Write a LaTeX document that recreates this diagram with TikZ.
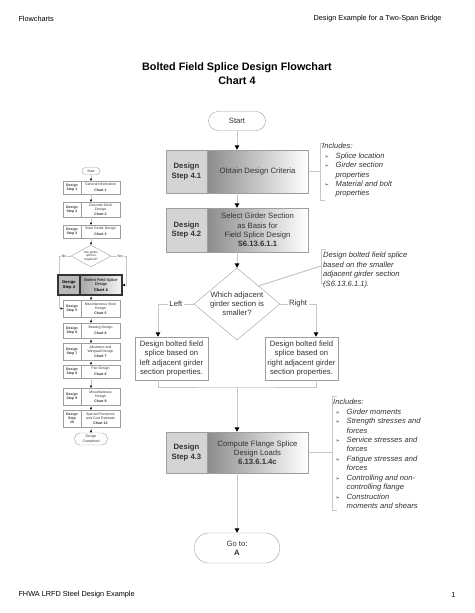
\documentclass[tikz,border=0pt]{standalone}
\usepackage{fontspec}
\setmainfont{Liberation Sans}
\newfontfamily\dejavu{DejaVu Sans}
\usetikzlibrary{arrows.meta,shapes.geometric,calc}
\definecolor{linegray}{gray}{0.78}
\definecolor{boxgray}{gray}{0.62}
\definecolor{leftfill}{gray}{0.83}
\definecolor{shadedark}{gray}{0.55}
\definecolor{txtgray}{gray}{0.2}
\newcommand\mainsz{\fontsize{7.7}{9.2}\selectfont}
\newcommand\notesz{\fontsize{7.6}{9.45}\selectfont}
\newcommand\hdsz{\fontsize{7.3}{9}\selectfont}
\newcommand\minisz{\fontsize{3.5}{4.2}\selectfont}
\newcommand\bul{{\dejavu\fontsize{5}{5}\selectfont ➢}}
\newcommand\itm[1]{\hspace*{2.5pt}\makebox[11pt][l]{\bul}#1}
\newcommand\cnt[1]{\hspace*{13.5pt}#1}
\begin{document}
\begin{tikzpicture}[x=1pt,y=-1pt,
  conn/.style={draw=linegray, line width=1pt},
  arr/.style={conn, -{Triangle[length=4.5pt,width=4.5pt,color=black]}},
  steplab/.style={draw=boxgray, fill=leftfill, font=\bfseries\mainsz, align=center, inner sep=0pt, text=txtgray},
  stepbody/.style={draw=boxgray, left color=shadedark, right color=white, font=\mainsz, align=center, inner sep=0pt, text=txtgray},
  plainbox/.style={draw=boxgray, fill=white, font=\mainsz, align=center, inner sep=0pt, text=txtgray},
  term/.style={draw=boxgray, fill=white, font=\mainsz, align=center, inner sep=0pt, text=txtgray},
  lbl/.style={fill=white, font=\mainsz, inner sep=1.5pt, text=txtgray},
  note/.style={font=\itshape\notesz, align=left, inner sep=0pt, anchor=north west, text=txtgray},
  mconn/.style={draw=linegray, line width=0.6pt},
  marr/.style={mconn, -{Triangle[length=2.2pt,width=2.2pt,color=black]}},
  mlab/.style={draw=boxgray, line width=0.4pt, fill=white, font=\bfseries\minisz, align=center, inner sep=0pt, text=txtgray},
  mbody/.style={draw=boxgray, line width=0.4pt, fill=white, font=\minisz, align=center, inner sep=0pt, text=txtgray},
  mterm/.style={draw=boxgray, line width=0.4pt, fill=white, font=\minisz, align=center, inner sep=0pt, rounded corners=3.5pt, text=txtgray},
  mlbl/.style={fill=white, font=\minisz, inner sep=0.6pt, text=txtgray}
]
\fill[white] (0,0) rectangle (474,613);
\useasboundingbox (0,0) rectangle (474,613);

% header / footer
\node[anchor=west, font=\hdsz] (hl) at (15,19) {Flowcharts};
\node[anchor=east, font=\hdsz] (hr) at (445,19) {Design Example for a Two-Span Bridge};
\node[anchor=west, font=\hdsz] (fl) at (15,595) {FHWA LRFD Steel Design Example};
\node[anchor=east, font=\hdsz] (fr) at (459,595) {1};

% title
\node[font=\bfseries\fontsize{10.8}{14.5}\selectfont, align=center] (title) at (237,73.5) {Bolted Field Splice Design Flowchart\\Chart 4};

% main axis
\coordinate (ax) at (237,0);
\coordinate (lj) at (158,0);
\coordinate (rj) at (316,0);

\node[term, minimum width=57pt, minimum height=19pt, rounded corners=9.5pt] (start) at (237,121) {Start};

\node[steplab, minimum width=41pt, minimum height=43pt] (s41l) at (186.5,171.5) {Design\\Step 4.1};
\node[stepbody, minimum width=101pt, minimum height=43pt] (s41r) at (257.5,171.5) {Obtain Design Criteria};

\node[steplab, minimum width=41pt, minimum height=44pt] (s42l) at (186.5,230) {Design\\Step 4.2};
\node[stepbody, minimum width=101pt, minimum height=44pt] (s42r) at (257.5,230) {Select Girder Section\\as Basis for\\Field Splice Design\\\textbf{S6.13.6.1.1}};

\node[draw=boxgray, fill=white, shape=diamond, shape aspect=1.2, inner sep=0pt, minimum width=86pt, minimum height=72pt, font=\mainsz, align=center, text=txtgray] (dia) at (237,304) {Which adjacent\\girder section is\\smaller?};

\node[plainbox, minimum width=73pt, minimum height=43pt] (lbox) at (171.5,358.5) {Design bolted field\\splice based on\\left adjacent girder\\section properties.};
\node[plainbox, minimum width=73pt, minimum height=43pt] (rbox) at (301.5,358.5) {Design bolted field\\splice based on\\right adjacent girder\\section properties.};

\coordinate (join) at (237,387);

\node[steplab, minimum width=41pt, minimum height=41pt] (s43l) at (186.5,452.5) {Design\\Step 4.3};
\node[stepbody, minimum width=101pt, minimum height=41pt] (s43r) at (257.5,452.5) {Compute Flange Splice\\Design Loads\\\textbf{6.13.6.1.4c}};

\node[term, minimum width=85pt, minimum height=30pt, rounded corners=14pt] (goto) at (237,548) {Go to:\\\textbf{A}};

% main connectors
\draw[arr] (start.south) -- (ax |- s41r.north);
\draw[arr] (ax |- s41r.south) -- (ax |- s42r.north);
\draw[arr] (ax |- s42r.south) -- (dia.north);
\draw[arr] (dia.west) -| node[lbl, pos=0.25] {Left} (lj |- lbox.north);
\draw[arr] (dia.east) -| node[lbl, pos=0.25] {Right} (rj |- rbox.north);
\draw[conn] (lj |- lbox.south) |- (join) -| (rj |- rbox.south);
\draw[arr] (join) -- (ax |- s43r.north);
\draw[arr] (ax |- s43r.south) -- (goto.north);

% notes
\coordinate (n1b) at (320,171.5);
\draw[conn] (325,143) -- (320,143) -- (320,200) -- (325,200);
\draw[conn] (s41r.east) -- (n1b);
\node[note] (n1) at (322,143) {Includes:\\\itm{Splice location}\\\itm{Girder section}\\\cnt{properties}\\\itm{Material and bolt}\\\cnt{properties}};

\coordinate (n2b) at (321,266);
\draw[conn] (326,249) -- (321,249) -- (321,283) -- (326,283);
\draw[conn] (dia.north east) -- (n2b);
\node[note] (n2) at (323,252) {Design bolted field splice\\based on the smaller\\adjacent girder section\\(S6.13.6.1.1).};

\coordinate (n3b) at (332,452.5);
\draw[conn] (337,396) -- (332,396) -- (332,510) -- (337,510);
\draw[conn] (s43r.east) -- (n3b);
\node[note] (n3) at (333,399) {Includes:\\\itm{Girder moments}\\\itm{Strength stresses and}\\\cnt{forces}\\\itm{Service stresses and}\\\cnt{forces}\\\itm{Fatigue stresses and}\\\cnt{forces}\\\itm{Controlling and non-}\\\cnt{controlling flange}\\\itm{Construction}\\\cnt{moments and shears}};

% mini flowchart
\coordinate (mnoX) at (59.5,0);
\coordinate (myesX) at (126,0);
\node[mterm, minimum width=18pt, minimum height=7pt] (mstart) at (91,171) {Start};
\node[mlab, minimum width=18pt, minimum height=13pt] (m1l) at (72,187.5) {Design\\Step 1};
\node[mbody, minimum width=39pt, minimum height=13pt] (m1r) at (100.5,187.5) {General Information\\[1.5pt]\textbf{Chart 1}};
\node[mlab, minimum width=18pt, minimum height=15pt] (m2l) at (72,209.5) {Design\\Step 2};
\node[mbody, minimum width=39pt, minimum height=15pt] (m2r) at (100.5,209.5) {Concrete Deck\\Design\\[1pt]\textbf{Chart 2}};
\node[mlab, minimum width=18pt, minimum height=13pt] (m3l) at (72,231.5) {Design\\Step 3};
\node[mbody, minimum width=39pt, minimum height=13pt] (m3r) at (100.5,231.5) {Steel Girder Design\\[1.5pt]\textbf{Chart 3}};
\node[draw=boxgray, line width=0.4pt, fill=white, shape=diamond, shape aspect=1.8, inner sep=0pt, minimum width=40pt, minimum height=22pt, font=\fontsize{3.2}{3.8}\selectfont, align=center, text=txtgray] (md) at (91,256) {Are girder\\splices\\required?};

\node[mlab, minimum width=18pt, minimum height=17pt] (m5l) at (72,308.5) {Design\\Step 5};
\node[mbody, minimum width=39pt, minimum height=17pt] (m5r) at (100.5,308.5) {Miscellaneous Steel\\Design\\[1pt]\textbf{Chart 5}};

\draw[marr] (md.west) -| node[mlbl, pos=0.3] {No} (mnoX |- m5l.west) -- (m5l.west);

\node[draw=black!80, line width=1.1pt, fill=gray!55, font=\bfseries\fontsize{4}{4.8}\selectfont, align=center, inner sep=0pt, minimum width=22pt, minimum height=20pt, text=black] (m4l) at (69,285) {Design\\Step 4};
\node[draw=black!80, line width=1.1pt, left color=gray!70, right color=gray!8, font=\fontsize{4}{4.8}\selectfont, align=center, inner sep=0pt, minimum width=42pt, minimum height=20pt, text=black] (m4r) at (101,285) {Bolted Field Splice\\Design\\[1pt]\textbf{Chart 4}};

\node[mlab, minimum width=18pt, minimum height=15pt] (m6l) at (72,330.5) {Design\\Step 6};
\node[mbody, minimum width=39pt, minimum height=15pt] (m6r) at (100.5,330.5) {Bearing Design\\[2pt]\textbf{Chart 6}};
\node[mlab, minimum width=18pt, minimum height=17pt] (m7l) at (72,351.5) {Design\\Step 7};
\node[mbody, minimum width=39pt, minimum height=17pt] (m7r) at (100.5,351.5) {Abutment and\\Wingwall Design\\[1pt]\textbf{Chart 7}};
\node[mlab, minimum width=18pt, minimum height=13pt] (m8l) at (72,371.5) {Design\\Step 8};
\node[mbody, minimum width=39pt, minimum height=13pt] (m8r) at (100.5,371.5) {Pier Design\\[1.5pt]\textbf{Chart 8}};
\node[mlab, minimum width=18pt, minimum height=17pt] (m9l) at (72,396.5) {Design\\Step 9};
\node[mbody, minimum width=39pt, minimum height=17pt] (m9r) at (100.5,396.5) {Miscellaneous\\Design\\[1pt]\textbf{Chart 9}};
\node[mlab, minimum width=18pt, minimum height=17pt] (m10l) at (72,418.5) {Design\\Step\\10};
\node[mbody, minimum width=39pt, minimum height=17pt] (m10r) at (100.5,418.5) {Special Provisions\\and Cost Estimate\\[1pt]\textbf{Chart 10}};
\node[mterm, minimum width=33pt, minimum height=12pt, rounded corners=5.5pt] (mdone) at (91,439) {Design\\Completed};

% mini connectors
\coordinate (max) at (91,0);
\draw[marr] (mstart.south) -- (max |- m1r.north);
\draw[marr] (max |- m1r.south) -- (max |- m2r.north);
\draw[marr] (max |- m2r.south) -- (max |- m3r.north);
\draw[marr] (max |- m3r.south) -- (md.north);
\draw[marr] (md.east) -| node[mlbl, pos=0.3] {Yes} (myesX |- m4r.east) -- (m4r.east);
\draw[marr] (max |- m4r.south) -- (max |- m5r.north);
\draw[marr] (max |- m5r.south) -- (max |- m6r.north);
\draw[marr] (max |- m6r.south) -- (max |- m7r.north);
\draw[marr] (max |- m7r.south) -- (max |- m8r.north);
\draw[marr] (max |- m8r.south) -- (max |- m9r.north);
\draw[marr] (max |- m9r.south) -- (max |- m10r.north);
\draw[marr] (max |- m10r.south) -- (mdone.north);
\end{tikzpicture}
\end{document}
